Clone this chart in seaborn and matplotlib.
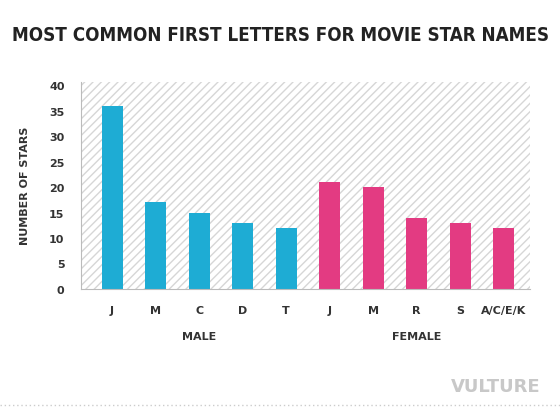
import matplotlib
matplotlib.use("Agg")
import matplotlib.pyplot as plt
import seaborn as sns
import pandas as pd
from matplotlib.patches import Rectangle

letters = ["J", "M", "C", "D", "T", "J", "M", "R", "S", "A/C/E/K"]
counts = [36, 17, 15, 13, 12, 21, 20, 14, 13, 12]
groups = ["MALE"] * 5 + ["FEMALE"] * 5
colors = ["#00bdf2"] * 5 + ["#ff1f7e"] * 5

df = pd.DataFrame({"pos": [str(i) for i in range(len(letters))], "count": counts})

sns.set_style("white")
plt.rcParams["font.family"] = ["DejaVu Sans"]
fig = plt.figure(figsize=(5.6, 4.14), dpi=100)
ax = fig.add_axes([0.145, 0.30, 0.801, 0.50])

# hatched background
bg = Rectangle((0, 0), 1, 1, transform=ax.transAxes, facecolor="white",
               edgecolor="#d6d6d6", hatch="////", linewidth=0, zorder=0)
ax.add_patch(bg)

sns.barplot(data=df, x="pos", y="count", hue="pos", palette=colors,
            legend=False, width=0.48, ax=ax, zorder=2)
for p in ax.patches[1:]:
    p.set_edgecolor("none")

ax.set_xlim(-0.71, 9.6)
ax.set_ylim(0, 40.7)
ax.set_yticks(range(0, 41, 5))
ax.set_xticks(range(len(letters)))
ax.set_xticklabels(letters)
ax.tick_params(axis="both", length=0, labelsize=8, colors="#333333", pad=12)
for lab in ax.get_xticklabels() + ax.get_yticklabels():
    lab.set_fontweight("bold")
ax.set_xlabel("")
ax.set_ylabel("NUMBER OF STARS", fontsize=8, fontweight="bold", color="#333333", labelpad=14)
for s in ["top", "right"]:
    ax.spines[s].set_visible(False)
for s in ["left", "bottom"]:
    ax.spines[s].set_color("#bbbbbb")
    ax.spines[s].set_linewidth(0.8)

ax.text(2, -0.23, groups[0], transform=ax.get_xaxis_transform(), ha="center",
        va="center", fontsize=8, fontweight="bold", color="#333333")
ax.text(7, -0.23, groups[5], transform=ax.get_xaxis_transform(), ha="center",
        va="center", fontsize=8, fontweight="bold", color="#333333")

fig.text(0.5, 0.915, "MOST COMMON FIRST LETTERS FOR MOVIE STAR NAMES", ha="center",
         va="center", fontsize=13.5, fontweight="bold", color="#222222",
         family=["DejaVu Sans"], stretch="condensed")
fig.text(0.965, 0.065, "VULTURE", ha="right", va="center", fontsize=13,
         fontweight="bold", color="#c8c8c8")
fig.add_artist(plt.Line2D([0, 1], [0.02, 0.02], transform=fig.transFigure,
                          color="#cccccc", linestyle=(0, (1, 2)), linewidth=1))

fig.savefig("out.png", dpi=100)
